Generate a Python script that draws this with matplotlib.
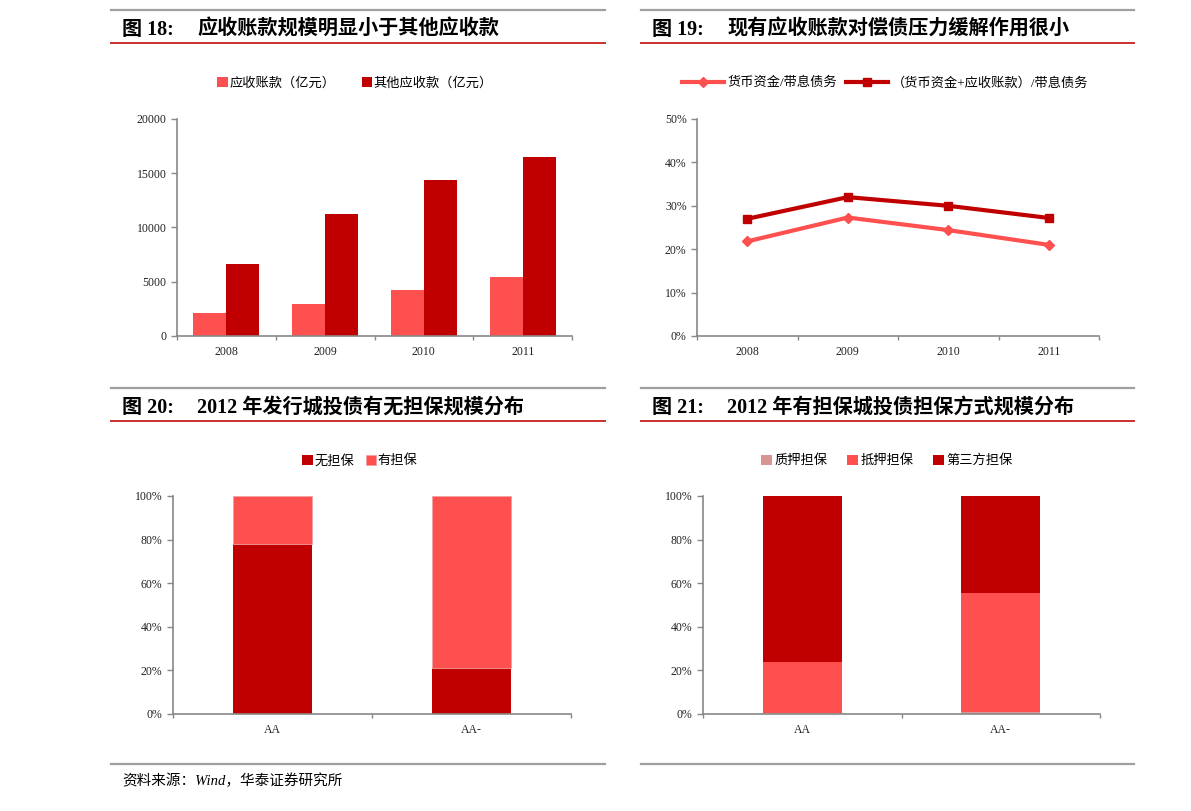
import numpy as np
import matplotlib
matplotlib.use('Agg')
import matplotlib.pyplot as plt
from matplotlib.lines import Line2D
from matplotlib.ticker import FuncFormatter

plt.rcParams['font.family'] = ['Liberation Serif', 'Noto Sans CJK SC', 'DejaVu Sans']

# -------------------------------
# data
# -------------------------------
years = ['2008', '2009', '2010', '2011']
receivable = [2100, 2950, 4200, 5400]           # 应收账款（亿元）
other_receivable = [6600, 11200, 14400, 16500]  # 其他应收款（亿元）

cash_ratio = [21.8, 27.3, 24.4, 21.0]           # 货币资金/带息债务 (%)
cash_recv_ratio = [27.0, 32.0, 30.0, 27.2]      # （货币资金+应收账款）/带息债务 (%)

ratings = ['AA', 'AA-']
unsecured = [78, 21]                            # 无担保 (%)
secured = [22, 79]                              # 有担保 (%)

pledge = [0.3, 0.8]                             # 质押担保 (%)
mortgage = [23.6, 54.7]                         # 抵押担保 (%)
third_party = [76.1, 44.5]                      # 第三方担保 (%)

LIGHT = '#FF5050'
DARK = '#C00000'
PINK = '#D99594'
AXIS = '#888888'

W, H = 1191, 811
fig = plt.figure(figsize=(W / 100, H / 100), dpi=100)


def px_axes(x0, y0, x1, y1):
    return fig.add_axes([x0 / W, 1 - y1 / H, (x1 - x0) / W, (y1 - y0) / H])


def hline(x0, x1, y, color, lw):
    fig.add_artist(Line2D([x0 / W, x1 / W], [1 - y / H, 1 - y / H],
                          color=color, lw=lw, transform=fig.transFigure))


def header(x0, x1, y_top, num, title):
    hline(x0, x1, y_top, '#A0A0A0', 1.6)
    fig.text((x0 + 11) / W, 1 - (y_top + 20) / H, '图 ' + num + ':',
             fontsize=14.5, fontweight='bold', va='center', ha='left')
    fig.text((x0 + 86) / W, 1 - (y_top + 20) / H, title,
             fontsize=14.5, fontweight='bold', va='center', ha='left')
    hline(x0, x1, y_top + 33, '#CC2F2F', 1.4)


def style_axes(ax):
    for s in ['top', 'right']:
        ax.spines[s].set_visible(False)
    for s in ['left', 'bottom']:
        ax.spines[s].set_color(AXIS)
        ax.spines[s].set_linewidth(1.2)
    ax.tick_params(axis='both', colors=AXIS, labelcolor='#222222',
                   labelsize=8.5, length=4, width=1, direction='out')
    ax.tick_params(axis='x', which='major', length=0, pad=7)
    ax.tick_params(axis='x', which='minor', length=3, width=1, colors=AXIS)


def cat_minor(ax, n):
    ax.set_xticks(np.arange(-0.5, n, 1.0), minor=True)


pct = FuncFormatter(lambda v, p: '%d%%' % v)

# -------------------------------
# headers
# -------------------------------
header(111, 605, 10, '18', '应收账款规模明显小于其他应收款')
header(641, 1134, 10, '19', '现有应收账款对偿债压力缓解作用很小')
header(111, 605, 388, '20', '2012 年发行城投债有无担保规模分布')
header(641, 1134, 388, '21', '2012 年有担保城投债担保方式规模分布')

# -------------------------------
# 图18 grouped bars
# -------------------------------
ax1 = px_axes(177, 119, 572, 336)
x = np.arange(len(years))
bw = 0.335
ax1.bar(x - bw / 2, receivable, bw, color=LIGHT, label='应收账款（亿元）')
ax1.bar(x + bw / 2, other_receivable, bw, color=DARK, label='其他应收款（亿元）')
ax1.set_xlim(-0.5, 3.5)
ax1.set_ylim(0, 20000)
ax1.set_yticks(np.arange(0, 20001, 5000))
ax1.set_xticks(x)
ax1.set_xticklabels(years)
cat_minor(ax1, len(years))
style_axes(ax1)
ax1.legend(loc='center', bbox_to_anchor=(355 / W, 1 - 83 / H),
           bbox_transform=fig.transFigure, ncol=2, frameon=False,
           fontsize=9.5, handlelength=0.8, handleheight=0.8,
           handletextpad=0.1, columnspacing=2.0)

# -------------------------------
# 图19 lines
# -------------------------------
ax2 = px_axes(697, 119, 1099, 336)
ax2.plot(x, cash_ratio, color=LIGHT, lw=3, marker='D', ms=5,
         label='货币资金/带息债务')
ax2.plot(x, cash_recv_ratio, color=DARK, lw=3, marker='s', ms=6,
         label='（货币资金+应收账款）/带息债务')
ax2.set_xlim(-0.5, 3.5)
ax2.set_ylim(0, 50)
ax2.set_yticks(np.arange(0, 51, 10))
ax2.yaxis.set_major_formatter(pct)
ax2.set_xticks(x)
ax2.set_xticklabels(years)
cat_minor(ax2, len(years))
style_axes(ax2)
ax2.legend(loc='center', bbox_to_anchor=(885 / W, 1 - 83 / H),
           bbox_transform=fig.transFigure, ncol=2, frameon=False,
           fontsize=9.5, handlelength=3.2, handletextpad=0.3,
           columnspacing=0.6, numpoints=1)

# -------------------------------
# 图20 stacked 100%
# -------------------------------
ax3 = px_axes(173, 496, 571, 714)
xr = np.arange(len(ratings))
rw = 0.4
ax3.bar(xr, unsecured, rw, color=DARK, label='无担保')
ax3.bar(xr, secured, rw, bottom=unsecured, color=LIGHT,
        edgecolor='#F4A0A0', lw=0.6, label='有担保')
ax3.set_xlim(-0.5, 1.5)
ax3.set_ylim(0, 100)
ax3.set_yticks(np.arange(0, 101, 20))
ax3.yaxis.set_major_formatter(pct)
ax3.set_xticks(xr)
ax3.set_xticklabels(ratings)
cat_minor(ax3, len(ratings))
style_axes(ax3)
ax3.legend(loc='center', bbox_to_anchor=(360 / W, 1 - 461 / H),
           bbox_transform=fig.transFigure, ncol=2, frameon=False,
           fontsize=9.5, handlelength=0.8, handleheight=0.8,
           handletextpad=0.1, columnspacing=0.9)

# -------------------------------
# 图21 stacked 100%
# -------------------------------
ax4 = px_axes(703, 496, 1100, 714)
b1 = np.array(pledge)
b2 = b1 + np.array(mortgage)
ax4.bar(xr, pledge, rw, color=PINK, label='质押担保')
ax4.bar(xr, mortgage, rw, bottom=b1, color=LIGHT, label='抵押担保')
ax4.bar(xr, third_party, rw, bottom=b2, color=DARK, label='第三方担保')
ax4.set_xlim(-0.5, 1.5)
ax4.set_ylim(0, 100)
ax4.set_yticks(np.arange(0, 101, 20))
ax4.yaxis.set_major_formatter(pct)
ax4.set_xticks(xr)
ax4.set_xticklabels(ratings)
cat_minor(ax4, len(ratings))
style_axes(ax4)
ax4.legend(loc='center', bbox_to_anchor=(887 / W, 1 - 461 / H),
           bbox_transform=fig.transFigure, ncol=3, frameon=False,
           fontsize=9.5, handlelength=0.8, handleheight=0.8,
           handletextpad=0.2, columnspacing=1.5)

# -------------------------------
# footer
# -------------------------------
hline(111, 605, 764, '#A0A0A0', 1.6)
hline(641, 1134, 764, '#A0A0A0', 1.6)
fig.text(122 / W, 1 - 781 / H, '资料来源：Wind，华泰证券研究所',
         fontsize=10.5, style='italic', va='center', ha='left')

fig.savefig('out.png', dpi=100)
